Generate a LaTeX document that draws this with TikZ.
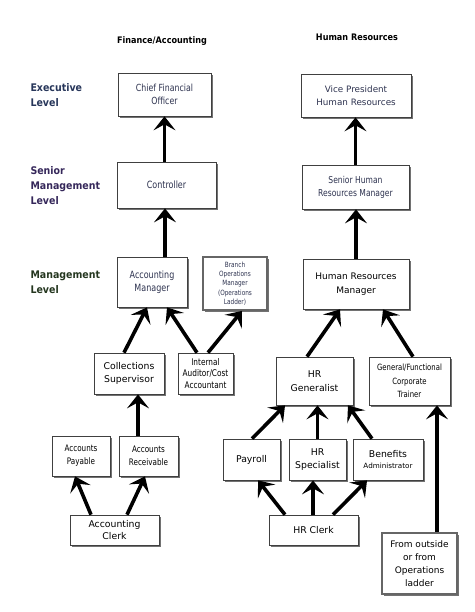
\documentclass[tikz,border=0pt]{standalone}
\usepackage{fontspec}
\setmainfont{DejaVu Sans}
\newfontfamily\condf[FakeStretch=0.8]{DejaVu Sans}
\newfontfamily\boldcf[FakeStretch=0.9]{DejaVu Sans Bold}
\usetikzlibrary{arrows.meta,shadows,calc}
\definecolor{execcol}{HTML}{27365A}
\definecolor{seniorcol}{HTML}{35275A}
\definecolor{mgmtcol}{HTML}{24361F}
\definecolor{boxtext}{HTML}{2E3350}
\tikzset{
  box/.style={draw=black!75, line width=0.7pt, fill=white, align=center, inner sep=0pt,
    drop shadow={shadow xshift=1.6pt, shadow yshift=-1.6pt, fill=black!65, opacity=0.85}},
  heavybox/.style={box, draw=black!60, line width=1.8pt},
  toptext/.style={text=boxtext},
  lvl/.style={anchor=west, align=left, font=\boldcf\fontsize{10.5}{15}\selectfont},
  hdr/.style={font=\boldcf\fontsize{9}{10}\selectfont},
  up/.style={line width=3.6pt, -{Stealth[length=14pt,width=22pt,inset=6pt]}},
}
\begin{document}
\begin{tikzpicture}[x=1pt,y=-1pt]
\useasboundingbox (0,0) rectangle (474,612);
% headers
\node[hdr] (hfa) at (162,41) {Finance/Accounting};
\node[hdr] (hhr) at (357,37) {Human Resources};
% level labels
\node[lvl, text=execcol] (lexec) at (27,95.5) {Executive\\Level};
\node[lvl, text=seniorcol] (lsen) at (27,186) {Senior\\Management\\Level};
\node[lvl, text=mgmtcol] (lmgmt) at (27,282) {Management\\Level};
% finance boxes
\node[box, toptext, minimum width=93pt, minimum height=43pt, font=\condf\fontsize{9.8}{13.5}\selectfont] (cfo) at (164.5,94.5) {Chief Financial\\Officer};
\node[box, toptext, minimum width=99pt, minimum height=46pt, font=\condf\fontsize{10}{13}\selectfont] (ctrl) at (166.5,185) {Controller};
\node[box, toptext, minimum width=70pt, minimum height=50pt, font=\condf\fontsize{10}{13.5}\selectfont] (am) at (152,282) {Accounting\\Manager};
\node[heavybox, toptext, minimum width=64pt, minimum height=53pt, font=\condf\fontsize{7.2}{9.3}\selectfont] (br) at (235,283.5) {Branch\\Operations\\Manager\\(Operations\\Ladder)};
\node[box, minimum width=70pt, minimum height=41pt, font=\fontsize{9.3}{13.5}\selectfont] (coll) at (129,373.5) {Collections\\Supervisor};
\node[box, minimum width=55pt, minimum height=41pt, font=\condf\fontsize{9.2}{11.8}\selectfont] (ia) at (205.5,373.5) {Internal\\Auditor/Cost\\Accountant};
\node[box, minimum width=58pt, minimum height=40pt, font=\condf\fontsize{9}{13}\selectfont] (ap) at (81,456) {Accounts\\Payable};
\node[box, minimum width=59pt, minimum height=40pt, font=\condf\fontsize{9}{13}\selectfont] (ar) at (148.5,456) {Accounts\\Receivable};
\node[box, minimum width=89pt, minimum height=30pt, font=\fontsize{9.3}{12.5}\selectfont] (ac) at (114.5,530) {Accounting\\Clerk};
% HR boxes
\node[box, toptext, minimum width=110pt, minimum height=43pt, font=\fontsize{8.8}{13.5}\selectfont] (vp) at (356,95.5) {Vice President\\Human Resources};
\node[box, toptext, minimum width=107pt, minimum height=44pt, font=\condf\fontsize{9.5}{13}\selectfont] (srhr) at (355.5,187) {Senior Human\\Resources Manager};
\node[box, minimum width=106pt, minimum height=50pt, font=\fontsize{9}{14}\selectfont] (hrm) at (356,284) {Human Resources\\Manager};
\node[box, minimum width=77pt, minimum height=48pt, font=\fontsize{9.3}{13.5}\selectfont] (gen) at (314.5,381) {HR\\Generalist};
\node[box, minimum width=81pt, minimum height=48pt, font=\condf\fontsize{8.6}{13.3}\selectfont] (tr) at (409.5,381) {General/Functional\\Corporate\\Trainer};
\node[box, minimum width=57pt, minimum height=41pt, font=\fontsize{9.3}{13}\selectfont] (pay) at (251.5,459.5) {Payroll};
\node[box, minimum width=57pt, minimum height=41pt, font=\fontsize{9.3}{13}\selectfont] (spec) at (317.5,459.5) {HR\\Specialist};
\node[box, minimum width=70pt, minimum height=41pt, font=\fontsize{9.3}{11}\selectfont] (ben) at (388,459.5) {Benefits\\{\fontsize{7.2}{9}\selectfont Administrator}};
\node[box, minimum width=89pt, minimum height=30pt, font=\fontsize{9.3}{13}\selectfont] (hrc) at (313.5,530) {HR Clerk};
\node[heavybox, minimum width=75pt, minimum height=61pt, font=\fontsize{9}{13}\selectfont] (out) at (419.5,563.5) {From outside\\or from\\Operations\\ladder};
% arrows finance
\draw[up] (cfo.south |- ctrl.north) -- (cfo.south);
\draw[up] ([xshift=13pt]am.north) -- ([xshift=13pt]am.north |- ctrl.south);
\draw[up] ([xshift=-5pt]coll.north) -- ([xshift=-5pt]am.south);
\draw[up] ([xshift=-8.5pt]ia.north) -- ([xshift=15pt]am.south);
\draw[up] ([xshift=2.5pt]ia.north) -- ([xshift=7pt]br.south);
\draw[up] ([xshift=-10.5pt]ar.north) -- ([xshift=-10.5pt]ar.north |- coll.south);
\draw[up] ([xshift=-23.5pt]ac.north) -- ([xshift=-6pt]ap.south);
\draw[up] ([xshift=12.5pt]ac.north) -- ([xshift=-3.5pt]ar.south);
% arrows HR
\draw[up] (srhr.north) -- (srhr.north |- vp.south);
\draw[up] (hrm.north) -- (hrm.north |- srhr.south);
\draw[up] ([xshift=-7.5pt]gen.north) -- ([xshift=-16pt]hrm.south);
\draw[up] ([xshift=3.5pt]tr.north) -- ([xshift=27pt]hrm.south);
\draw[up] ([xshift=0.5pt]pay.north) -- ([xshift=-29.5pt]gen.south);
\draw[up] (spec.north) -- (spec.north |- gen.south);
\draw[up] ([xshift=-16pt]ben.north) -- ([xshift=33.5pt]gen.south);
\draw[up] ([xshift=-28.5pt]hrc.north) -- ([xshift=6.5pt]pay.south);
\draw[up] ([xshift=-0.5pt]hrc.north) -- ([xshift=-0.5pt]hrc.north |- spec.south);
\draw[up] ([xshift=19.5pt]hrc.north) -- ([xshift=-21pt]ben.south);
\draw[up] ([xshift=17.5pt]out.north) -- ([xshift=17.5pt]out.north |- tr.south);
\end{tikzpicture}
\end{document}
